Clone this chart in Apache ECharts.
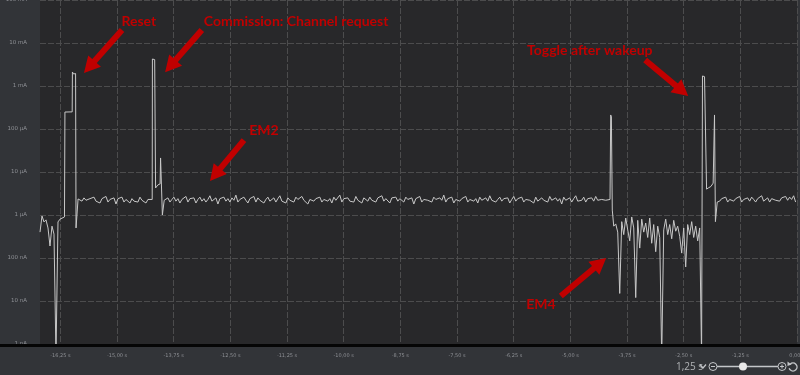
<!DOCTYPE html>
<html><head><meta charset="utf-8">
<script src="https://cdn.jsdelivr.net/npm/echarts@6/dist/echarts.min.js"></script>
<style>html,body{margin:0;padding:0;background:#323438;} #c{width:800px;height:375px;}</style>
</head><body><div id="c"></div>
<script>
// ---- x extent and noise sampling step (seconds) ----
const xMinS = -16.70;
const noiseStepS = 0.0441;

// ---- noisy segments: start time (s) + current values in µA ----
const sleepBeforeStart = -16.70;
const sleepBefore = [0.40,0.95,0.69,0.77,0.50,0.19,0.55,0.36,0.0005,0.69,0.80,0.85];
const em2BeforeStart = -15.818;
const em2Before = [2.3,2.1,2.5,2.2,2.0,2.4,2.2,2.6,2.1,2.3,1.9,2.4,2.2,2.7,2.0,2.3,2.1,2.5,1.8,2.4,
  2.2,2.6,2.0,2.3,2.5,1.9,2.4,2.1,2.3,2.0,2.6,2.2,2.4,1.9,2.3,2.2];
const em2IdleStart = -13.922;
const em2Idle = [
  2.2,2.5,2.0,2.3,2.6,2.1,2.4,1.9,2.3,2.2,
  2.7,2.0,2.4,2.2,2.5,1.9,2.3,2.6,2.1,2.4,
  2.0,2.3,2.8,2.1,2.2,2.5,1.8,2.4,2.3,2.6,
  2.1,2.4,2.0,2.5,2.2,2.9,2.0,2.3,2.1,2.6,
  2.2,1.9,2.4,2.3,2.7,2.0,2.5,2.2,2.4,1.9,
  2.3,2.6,2.1,2.2,2.5,2.0,2.4,2.8,2.1,2.3,
  1.9,2.5,2.2,2.4,2.0,2.6,2.3,2.1,2.7,2.2,
  2.4,1.8,2.3,2.5,2.1,2.4,2.2,2.6,2.0,2.3,
  2.5,2.1,2.4,1.9,2.6,2.2,2.3,2.9,2.0,2.4,
  2.2,2.5,2.1,2.3,2.0,2.7,2.2,2.4,1.9,2.5,
  2.3,2.1,2.6,2.2,2.4,2.0,2.5,2.3,2.8,2.1,
  2.4,2.2,1.9,2.5,2.3,2.6,2.1,2.4,2.2,2.0,
  2.6,2.3,2.1,2.5,1.8,2.4,2.2,2.7,2.0,2.3,
  2.5,2.2,2.4,2.0,2.6,2.3,2.1,2.5,2.2,2.9,
  2.0,2.4,2.2,2.6,1.9,2.3,2.5,2.1,2.4,2.2,
  2.7,2.0,2.3,2.5,2.1,2.4,1.9,2.6,2.2,2.3,
  2.5,2.1,2.8,2.2,2.4,2.0,2.3,2.6,2.1,2.4,
  2.2,2.5,1.9,2.3,2.7,2.1,2.4,2.2,2.6,2.0,
  2.3,2.5,2.2,2.4,1.9,2.6,2.1,2.3,2.5,2.2,
  2.4,2.0,2.7,2.2,2.3,2.5,2.1,2.4,1.8,2.6,
  2.2,2.3,2.5,2.0,2.4,2.8,2.1,2.3,2.2,2.6,
  2.0,2.4,2.3,2.5,2.1,2.7,2.2,2.4,2.3,2.5,
  2.2,2.4];
const em4SleepStart = -4.043;
const em4Sleep = [0.55,0.62,0.40,0.015,0.70,0.35,0.85,0.45,0.25,0.90,
  0.50,0.012,0.75,0.17,0.80,0.40,0.65,0.30,0.85,0.22,
  0.60,0.14,0.55,0.30,0.0005,0.45,0.80,0.35,0.60,0.28,
  0.75,0.42,0.55,0.32,0.13,0.50,0.062,0.60,0.35,0.70,
  0.30,0.55,0.25,0.50];
const em2AfterStart = -1.706;
const em2After = [2.1,2.4,2.2,2.6,2.0,2.3,2.5,2.1,2.4,2.2,
  2.7,2.0,2.3,2.2,2.5,2.1,2.6,2.3,2.0,2.4,
  2.2,2.8,2.1,2.3,2.5,2.0,2.4,2.6,2.2,2.3,
  2.1,2.5,2.4,2.7,2.2,2.6,2.3,2.8,2.0];

// ---- bursts: [time s, current µA] ----
const resetBurst = [[-16.16,0.9],[-16.15,248],[-15.99,250],[-15.985,2118],[-15.96,1900],
  [-15.935,2050],[-15.915,1950],[-15.905,0.5],[-15.88,0.55],[-15.86,2.36]];
const commissionBurst = [[-14.225,2.3],[-14.22,4245],[-14.17,4100],[-14.15,4.25],[-14.10,5.0],
  [-14.05,5.3],[-14.04,21.2],[-14.00,1.0],[-13.96,2.2]];
const wakeSpike = [[-4.125,2.3],[-4.11,212],[-4.095,190],[-4.075,1.3]];
const toggleBurst = [[-2.105,0.0005],[-2.085,1710],[-2.04,1650],[-2.01,1710],[-1.995,4.0],
  [-1.95,4.3],[-1.90,4.6],[-1.85,5.5],[-1.82,212],[-1.80,0.7],[-1.76,2.0]];

// ---- axis ticks ----
const xTickValues = [-16.25,-15,-13.75,-12.5,-11.25,-10,-8.75,-7.5,-6.25,-5,-3.75,-2.5,-1.25,0];
const yTickLabels = ['1 nA','10 nA','100 nA','1 µA','10 µA','100 µA','1 mA','10 mA','100 mA'];

// ---- annotations (data coordinates: [s, µA]) ----
const callouts = [
  {text:'Reset', label:[-14.52, 3.2e4], tail:[-14.89, 2.0e4], tip:[-15.73, 2.0e3]},
  {text:'Commission: Channel request', label:[-11.05, 3.2e4], tail:[-13.13, 2.0e4], tip:[-13.94, 2.1e3]},
  {text:'EM2', label:[-11.76, 90], tail:[-12.20, 55], tip:[-12.95, 6.2]},
  {text:'Toggle after wakeup', label:[-4.57, 6870], tail:[-3.35, 4025], tip:[-2.40, 585]},
  {text:'EM4', label:[-5.65, 0.0081], tail:[-5.21, 0.0131], tip:[-4.21, 0.10]}
];

function sampled(start, values) { return values.map((v, i) => [+(start + i * noiseStepS).toFixed(4), v]); }
const seriesData = [].concat(
  sampled(sleepBeforeStart, sleepBefore), resetBurst,
  sampled(em2BeforeStart, em2Before), commissionBurst,
  sampled(em2IdleStart, em2Idle), wakeSpike,
  sampled(em4SleepStart, em4Sleep), toggleBurst,
  sampled(em2AfterStart, em2After)
);

const LABEL = '#8e9095';
const GRID = '#4c4c4d';
const RED = '#c00000';

const chart = echarts.init(document.getElementById('c'), null, {renderer: 'canvas'});
chart.setOption({
  animation: false,
  backgroundColor: '#323438',
  grid: {left: 40, right: 3, top: 0, bottom: 31, show: true, backgroundColor: '#28282a', borderWidth: 0,
         containLabel: false, outerBoundsMode: 'none'},
  xAxis: {
    type: 'value', min: xMinS, max: 0,
    axisLine: {show: false},
    axisTick: {show: false, customValues: xTickValues},
    axisLabel: {customValues: xTickValues, color: LABEL, fontSize: 5, margin: 9,
      fontFamily: 'DejaVu Sans', hideOverlap: false,
      formatter: v => v.toFixed(2).replace('.', ',') + ' s'},
    splitLine: {show: true, lineStyle: {color: GRID, width: 1, type: [6, 2]}}
  },
  yAxis: {
    type: 'log', logBase: 10, min: 0.001, max: 100000, splitNumber: 8,
    name: 'Current', nameLocation: 'middle', nameGap: 31,
    nameTextStyle: {color: LABEL, fontSize: 5, fontFamily: 'DejaVu Sans'},
    axisLine: {show: false}, axisTick: {show: false},
    axisLabel: {color: LABEL, fontSize: 5.5, margin: 13, fontFamily: 'DejaVu Sans', hideOverlap: false,
      formatter: v => yTickLabels[Math.round(Math.log10(v)) + 3] || ''},
    splitLine: {show: true, lineStyle: {color: GRID, width: 1, type: [6, 2]}}
  },
  series: [{
    type: 'line', data: seriesData, symbol: 'none', showSymbol: false, clip: true,
    lineStyle: {color: '#c8c8c8', width: 1}
  }]
});

function px(p) { return chart.convertToPixel({gridIndex: 0}, p); }
function arrow(tail, tip) {
  const dx = tip[0] - tail[0], dy = tip[1] - tail[1];
  const L = Math.hypot(dx, dy), ux = dx / L, uy = dy / L, nx = -uy, ny = ux;
  const headLen = 16, half = 8.5;
  const bx = tip[0] - ux * headLen, by = tip[1] - uy * headLen;
  return [
    {type: 'line', z: 100, shape: {x1: tail[0], y1: tail[1], x2: bx + ux * 2, y2: by + uy * 2},
     style: {stroke: RED, lineWidth: 6}},
    {type: 'polygon', z: 100, shape: {points: [[tip[0], tip[1]], [bx + nx * half, by + ny * half], [bx - nx * half, by - ny * half]]},
     style: {fill: RED}}
  ];
}
const els = [];
callouts.forEach(c => {
  const l = px(c.label);
  els.push({type: 'text', z: 100, x: l[0], y: l[1],
    style: {text: c.text, fill: RED, font: 'bold 14px Lato', textAlign: 'center', textVerticalAlign: 'middle'}});
  arrow(px(c.tail), px(c.tip)).forEach(e => els.push(e));
});
// bottom separator
els.push({type: 'rect', z: 90, shape: {x: 0, y: 344, width: 800, height: 3}, style: {fill: '#050505'}});
// zoom controls
const CT = '#c4c6c9';
els.push({type: 'text', z: 100, x: 676, y: 367, style: {text: '1,25 s', fill: '#b0b2b5', font: '10px "Open Sans"', textVerticalAlign: 'middle'}});
els.push({type: 'polyline', z: 100, shape: {points: [[700, 364.5], [703, 368], [706, 364.5]]}, style: {stroke: CT, lineWidth: 1.2, fill: null}});
els.push({type: 'circle', z: 100, shape: {cx: 713, cy: 366.5, r: 4}, style: {stroke: CT, lineWidth: 1, fill: null}});
els.push({type: 'line', z: 100, shape: {x1: 711, y1: 366.5, x2: 715, y2: 366.5}, style: {stroke: CT, lineWidth: 1}});
els.push({type: 'line', z: 100, shape: {x1: 717, y1: 366.5, x2: 778, y2: 366.5}, style: {stroke: CT, lineWidth: 1.5}});
els.push({type: 'circle', z: 101, shape: {cx: 743, cy: 366.5, r: 4}, style: {fill: '#e8e8e8'}});
els.push({type: 'circle', z: 100, shape: {cx: 782, cy: 366.5, r: 4}, style: {stroke: CT, lineWidth: 1, fill: null}});
els.push({type: 'line', z: 100, shape: {x1: 780, y1: 366.5, x2: 784, y2: 366.5}, style: {stroke: CT, lineWidth: 1}});
els.push({type: 'line', z: 100, shape: {x1: 782, y1: 364.5, x2: 782, y2: 368.5}, style: {stroke: CT, lineWidth: 1}});
els.push({type: 'arc', z: 100, shape: {cx: 793, cy: 367, r: 4, startAngle: -Math.PI * 0.75, endAngle: Math.PI * 0.9}, style: {stroke: CT, lineWidth: 1.4, fill: null}});
els.push({type: 'polygon', z: 100, shape: {points: [[787.5, 361.5], [791.5, 364.5], [787.5, 366]]}, style: {fill: CT}});
chart.setOption({graphic: els});
</script>
</body></html>
